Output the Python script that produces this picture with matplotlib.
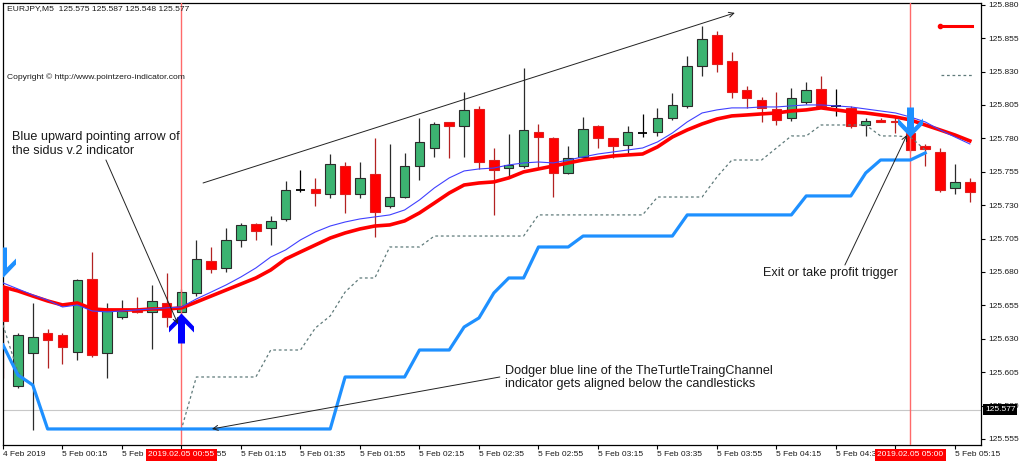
import numpy as np
import matplotlib
matplotlib.use('Agg')
import matplotlib.pyplot as plt
from matplotlib.patches import Rectangle
from matplotlib.path import Path

plt.rcParams['font.family'] = ['Liberation Sans', 'DejaVu Sans']

# EURJPY M5, 4 Feb 2019 23:55 .. 5 Feb 2019 05:25
opens = [125.669, 125.595, 125.619, 125.634, 125.633, 125.620, 125.675, 125.619, 125.646, 125.652,
         125.650, 125.657, 125.650, 125.664, 125.688, 125.683, 125.704, 125.716, 125.713, 125.720,
         125.741, 125.742, 125.738, 125.759, 125.738, 125.753, 125.729, 125.736, 125.759, 125.773,
         125.792, 125.789, 125.802, 125.764, 125.758, 125.759, 125.785, 125.780, 125.754, 125.766,
         125.789, 125.780, 125.775, 125.784, 125.785, 125.795, 125.804, 125.834, 125.857, 125.838,
         125.816, 125.809, 125.802, 125.795, 125.807, 125.817, 125.804, 125.803, 125.790, 125.794,
         125.793, 125.784, 125.774, 125.770, 125.743, 125.747]
highs = [125.671, 125.634, 125.657, 125.637, 125.634, 125.675, 125.695, 125.657, 125.659, 125.661,
         125.670, 125.679, 125.667, 125.704, 125.699, 125.713, 125.717, 125.717, 125.722, 125.748,
         125.756, 125.750, 125.768, 125.762, 125.762, 125.780, 125.776, 125.769, 125.795, 125.792,
         125.792, 125.815, 125.804, 125.773, 125.783, 125.833, 125.791, 125.781, 125.774, 125.796,
         125.790, 125.780, 125.789, 125.798, 125.803, 125.814, 125.842, 125.864, 125.860, 125.845,
         125.819, 125.811, 125.815, 125.818, 125.822, 125.827, 125.817, 125.804, 125.795, 125.795,
         125.796, 125.789, 125.776, 125.773, 125.761, 125.750]
lows = [125.601, 125.593, 125.562, 125.608, 125.611, 125.614, 125.616, 125.601, 125.645, 125.649,
        125.622, 125.639, 125.649, 125.662, 125.679, 125.680, 125.699, 125.704, 125.700, 125.718,
        125.740, 125.729, 125.735, 125.724, 125.735, 125.706, 125.728, 125.735, 125.749, 125.766,
        125.765, 125.766, 125.757, 125.723, 125.750, 125.758, 125.758, 125.736, 125.753, 125.765,
        125.773, 125.765, 125.769, 125.781, 125.782, 125.794, 125.803, 125.827, 125.830, 125.810,
        125.803, 125.792, 125.790, 125.793, 125.806, 125.803, 125.797, 125.788, 125.782, 125.792,
        125.784, 125.770, 125.759, 125.740, 125.738, 125.732]
closes = [125.643, 125.633, 125.631, 125.629, 125.624, 125.674, 125.618, 125.652, 125.651, 125.650,
          125.658, 125.646, 125.665, 125.690, 125.682, 125.704, 125.715, 125.711, 125.718, 125.741,
          125.741, 125.739, 125.761, 125.738, 125.750, 125.725, 125.736, 125.759, 125.777, 125.791,
          125.789, 125.801, 125.762, 125.756, 125.760, 125.786, 125.781, 125.754, 125.765, 125.787,
          125.780, 125.774, 125.785, 125.784, 125.795, 125.805, 125.834, 125.854, 125.836, 125.815,
          125.810, 125.803, 125.794, 125.810, 125.816, 125.804, 125.804, 125.789, 125.793, 125.792,
          125.792, 125.771, 125.772, 125.741, 125.747, 125.740]

# moving averages
ma_fast = [125.6718, 125.6673, 125.6628, 125.6590, 125.6538, 125.6553, 125.6508, 125.6501, 125.6508, 125.6516,
           125.6523, 125.6531, 125.6538, 125.6598, 125.6650, 125.6703, 125.6763, 125.6830, 125.6912, 125.6965,
           125.7040, 125.7099, 125.7144, 125.7174, 125.7197, 125.7212, 125.7227, 125.7264, 125.7339, 125.7429,
           125.7504, 125.7556, 125.7571, 125.7578, 125.7601, 125.7616, 125.7623, 125.7616, 125.7638, 125.7661,
           125.7683, 125.7698, 125.7713, 125.7728, 125.7773, 125.7840, 125.7923, 125.7990, 125.8013, 125.8028,
           125.8028, 125.8035, 125.8035, 125.8043, 125.8050, 125.8050, 125.8043, 125.8035, 125.8020, 125.8005,
           125.7990, 125.7960, 125.7923, 125.7863, 125.7810, 125.7758]
ma_slow = [125.6688, 125.6658, 125.6620, 125.6583, 125.6553, 125.6568, 125.6523, 125.6516, 125.6516, 125.6516,
           125.6523, 125.6523, 125.6531, 125.6575, 125.6620, 125.6665, 125.6710, 125.6755, 125.6815, 125.6897,
           125.6950, 125.7002, 125.7054, 125.7092, 125.7122, 125.7144, 125.7152, 125.7182, 125.7242, 125.7316,
           125.7391, 125.7451, 125.7466, 125.7474, 125.7504, 125.7549, 125.7571, 125.7593, 125.7616, 125.7638,
           125.7653, 125.7668, 125.7676, 125.7683, 125.7736, 125.7810, 125.7863, 125.7908, 125.7945, 125.7968,
           125.7975, 125.7983, 125.7990, 125.8005, 125.8013, 125.8028, 125.8013, 125.7998, 125.7990, 125.7975,
           125.7960, 125.7938, 125.7900, 125.7863, 125.7825, 125.7781]

# turtle trading channel (bars 0..62)
turtle_low = [125.6254, 125.6029, 125.5954, 125.5625, 125.5625, 125.5625, 125.5625, 125.5625, 125.5625, 125.5625,
              125.5625, 125.5625, 125.5625, 125.5625, 125.5625, 125.5625, 125.5625, 125.5625, 125.5625, 125.5625,
              125.5625, 125.5625, 125.5625, 125.6014, 125.6014, 125.6014, 125.6014, 125.6014, 125.6216, 125.6216,
              125.6216, 125.6388, 125.6456, 125.6643, 125.6755, 125.6755, 125.6987, 125.6987, 125.6987, 125.7069,
              125.7069, 125.7069, 125.7069, 125.7069, 125.7069, 125.7069, 125.7227, 125.7227, 125.7227, 125.7227,
              125.7227, 125.7227, 125.7227, 125.7227, 125.7369, 125.7369, 125.7369, 125.7369, 125.7541, 125.7638,
              125.7638, 125.7638, 125.7691]
turtle_exit = [125.6403, 125.6051, 125.5947, 125.5625, 125.5625, 125.5625, 125.5625, 125.5625, 125.5625, 125.5625,
               125.5625, 125.5625, 125.5625, 125.6014, 125.6014, 125.6014, 125.6014, 125.6014, 125.6216, 125.6216,
               125.6216, 125.6381, 125.6471, 125.6650, 125.6755, 125.6755, 125.6987, 125.6987, 125.6987, 125.7069,
               125.7069, 125.7069, 125.7069, 125.7069, 125.7069, 125.7069, 125.7227, 125.7227, 125.7227, 125.7227,
               125.7227, 125.7227, 125.7227, 125.7227, 125.7361, 125.7361, 125.7361, 125.7361, 125.7511, 125.7638,
               125.7638, 125.7638, 125.7728, 125.7818, 125.7818, 125.7900, 125.7900, 125.7900, 125.7900, 125.7818,
               125.7818, 125.7810, 125.7713]

# sidus arrows (bar, tip price)
buy_bars = [12]
buy_tips = [125.6493]
sell_bars = [0, 61]
sell_tips = [125.6763, 125.7810]
signal_bars = [12, 61]
signal_labels = ['2019.02.05 00:55', '2019.02.05 05:00']

last_price = 125.577
ytick_vals = [125.555, 125.580, 125.605, 125.630, 125.655, 125.680, 125.705,
              125.730, 125.755, 125.780, 125.805, 125.830, 125.855, 125.880]
xtick_bars = [0, 4, 8, 12, 16, 20, 24, 28, 32, 36, 40, 44, 48, 52, 56, 60, 64]
xtick_labels = ['4 Feb 2019', '5 Feb 00:15', '5 Feb 00:35', '5 Feb 00:55', '5 Feb 01:15',
                '5 Feb 01:35', '5 Feb 01:55', '5 Feb 02:15', '5 Feb 02:35', '5 Feb 02:55',
                '5 Feb 03:15', '5 Feb 03:35', '5 Feb 03:55', '5 Feb 04:15', '5 Feb 04:35',
                '5 Feb 04:55', '5 Feb 05:15']

fig = plt.figure(figsize=(10.24, 4.65), dpi=100)
ax = fig.add_axes([3 / 1024, 20 / 465, 978 / 1024, 442 / 465])
ax.set_xlim(0, 65.75)
ax.set_ylim(125.5505, 125.8813)

# candlesticks
body_w = 0.64
for i in range(len(opens)):
    o, h, l, c = opens[i], highs[i], lows[i], closes[i]
    if c > o:
        fc, ec, wc = '#3cb371', '#2b2b2b', '#2b2b2b'
    elif c < o:
        fc, ec, wc = '#ff0000', '#e02020', '#b22222'
    else:
        fc, ec, wc = None, '#000000', '#000000'
    ax.vlines(i, l, h, color=wc, lw=0.9, zorder=2)
    if fc is None:
        ax.hlines(o, i - body_w / 2, i + body_w / 2, color='black', lw=1.3, zorder=3)
    else:
        ax.add_patch(Rectangle((i - body_w / 2, min(o, c)), body_w, abs(c - o),
                               facecolor=fc, edgecolor=ec, lw=0.8, zorder=3))

ax.axhline(last_price, color='#c8c8c8', lw=0.8, zorder=0.5)
for b in signal_bars:
    ax.axvline(b, color='#ff6a6a', lw=1.0, zorder=4)

ax.plot(range(len(turtle_exit)), turtle_exit, color='#5f7a7a', lw=0.9, dashes=(2.2, 2.2), zorder=4)
ax.plot(range(len(turtle_low)), turtle_low, color='#1e90ff', lw=2.3, zorder=5)
ax.plot(range(len(ma_slow)), ma_slow, color='#ff0000', lw=2.6, zorder=6)
ax.plot(range(len(ma_fast)), ma_fast, color='#4040ff', lw=0.8, zorder=7)

# arrow markers, tip at origin
up_verts = [(0, 0), (12.5, -13), (12.5, -19), (3.5, -10), (3.5, -30), (-3.5, -30),
            (-3.5, -10), (-12.5, -19), (-12.5, -13), (0, 0)]
up_arrow = Path(up_verts, closed=True)
down_arrow = Path([(x, -y) for x, y in up_verts], closed=True)
ms = 60 * 72 / 100
ax.plot(buy_bars, buy_tips, ls='none', marker=up_arrow, ms=ms, mfc='#0000ff', mec='#0000ff', mew=0, zorder=8)
ax.plot(sell_bars, sell_tips, ls='none', marker=down_arrow, ms=ms, mfc='#1e90ff', mec='#1e90ff', mew=0, zorder=8)

# annotations
arr = dict(arrowstyle='->', color='#222222', lw=0.7, shrinkA=0, shrinkB=0, mutation_scale=9)
ax.annotate('', xy=(49.2, 125.8739), xytext=(13.45, 125.7466), arrowprops=arr, zorder=9)
ax.annotate('', xy=(11.76, 125.6411), xytext=(6.92, 125.7638), arrowprops=arr, zorder=9)
ax.annotate('', xy=(14.05, 125.5625), xytext=(33.4, 125.6014), arrowprops=arr, zorder=9)
ax.annotate('', xy=(60.77, 125.7825), xytext=(56.6, 125.6852), arrowprops=arr, zorder=9)

tc = '#1a1a1a'
ax.text(0.0092, 0.681, 'Blue upward pointing arrow of\nthe sidus v.2 indicator', transform=ax.transAxes,
        fontsize=9.1, color=tc, va='center', ha='left', linespacing=1.25, zorder=9)
ax.text(0.5133, 0.1527, 'Dodger blue line of the TheTurtleTraingChannel\nindicator gets aligned below the candlesticks',
        transform=ax.transAxes, fontsize=9.1, color=tc, va='center', ha='left', linespacing=1.2, zorder=9)
ax.text(0.7771, 0.3891, 'Exit or take profit trigger', transform=ax.transAxes,
        fontsize=9.1, color=tc, va='center', ha='left', zorder=9)
ax.text(0.0041, 0.9864, 'EURJPY,M5  125.575 125.587 125.548 125.577', transform=ax.transAxes,
        fontsize=6.1, color=tc, va='center', ha='left', zorder=9)
ax.text(0.0041, 0.8326, 'Copyright \u00a9 http://www.pointzero-indicator.com', transform=ax.transAxes,
        fontsize=6.1, color=tc, va='center', ha='left', zorder=9)

# indicator preview marks, top right
ax.plot([0.958, 0.991], [0.948, 0.948], transform=ax.transAxes, color='#ff0000', lw=2.2, zorder=9)
ax.plot([0.958], [0.948], transform=ax.transAxes, marker='o', ms=3, color='#ff0000', zorder=9)
ax.plot([0.959, 0.991], [0.837, 0.837], transform=ax.transAxes, color='#5f7a7a', lw=0.9,
        dashes=(2.2, 2.2), zorder=9)

# axes
ax.yaxis.tick_right()
ax.set_yticks(ytick_vals)
ax.set_yticklabels(['%.3f' % v for v in ytick_vals])
ax.set_xticks(xtick_bars)
ax.set_xticklabels(xtick_labels, ha='left')
ax.tick_params(axis='y', direction='out', length=3, width=0.8, pad=2, labelsize=6, labelcolor=tc)
ax.tick_params(axis='x', direction='out', length=3, width=0.8, pad=1, labelsize=6, labelcolor=tc)
for s in ax.spines.values():
    s.set_color('black')
    s.set_linewidth(0.9)

xt = ax.get_xaxis_transform()
for b, lab in zip(signal_bars, signal_labels):
    ax.text(b, -0.0226, lab, transform=xt, ha='center', va='center', fontsize=6, color='white',
            bbox=dict(boxstyle='square,pad=0.3', fc='#ff0000', ec='none'), zorder=10, clip_on=False)
ax.text(1.004, last_price, '%.3f' % last_price, transform=ax.get_yaxis_transform(), ha='left', va='center',
        fontsize=6, color='white', bbox=dict(boxstyle='square,pad=0.25', fc='black', ec='none'),
        zorder=10, clip_on=False)

fig.savefig('out.png', dpi=100, facecolor='white')
